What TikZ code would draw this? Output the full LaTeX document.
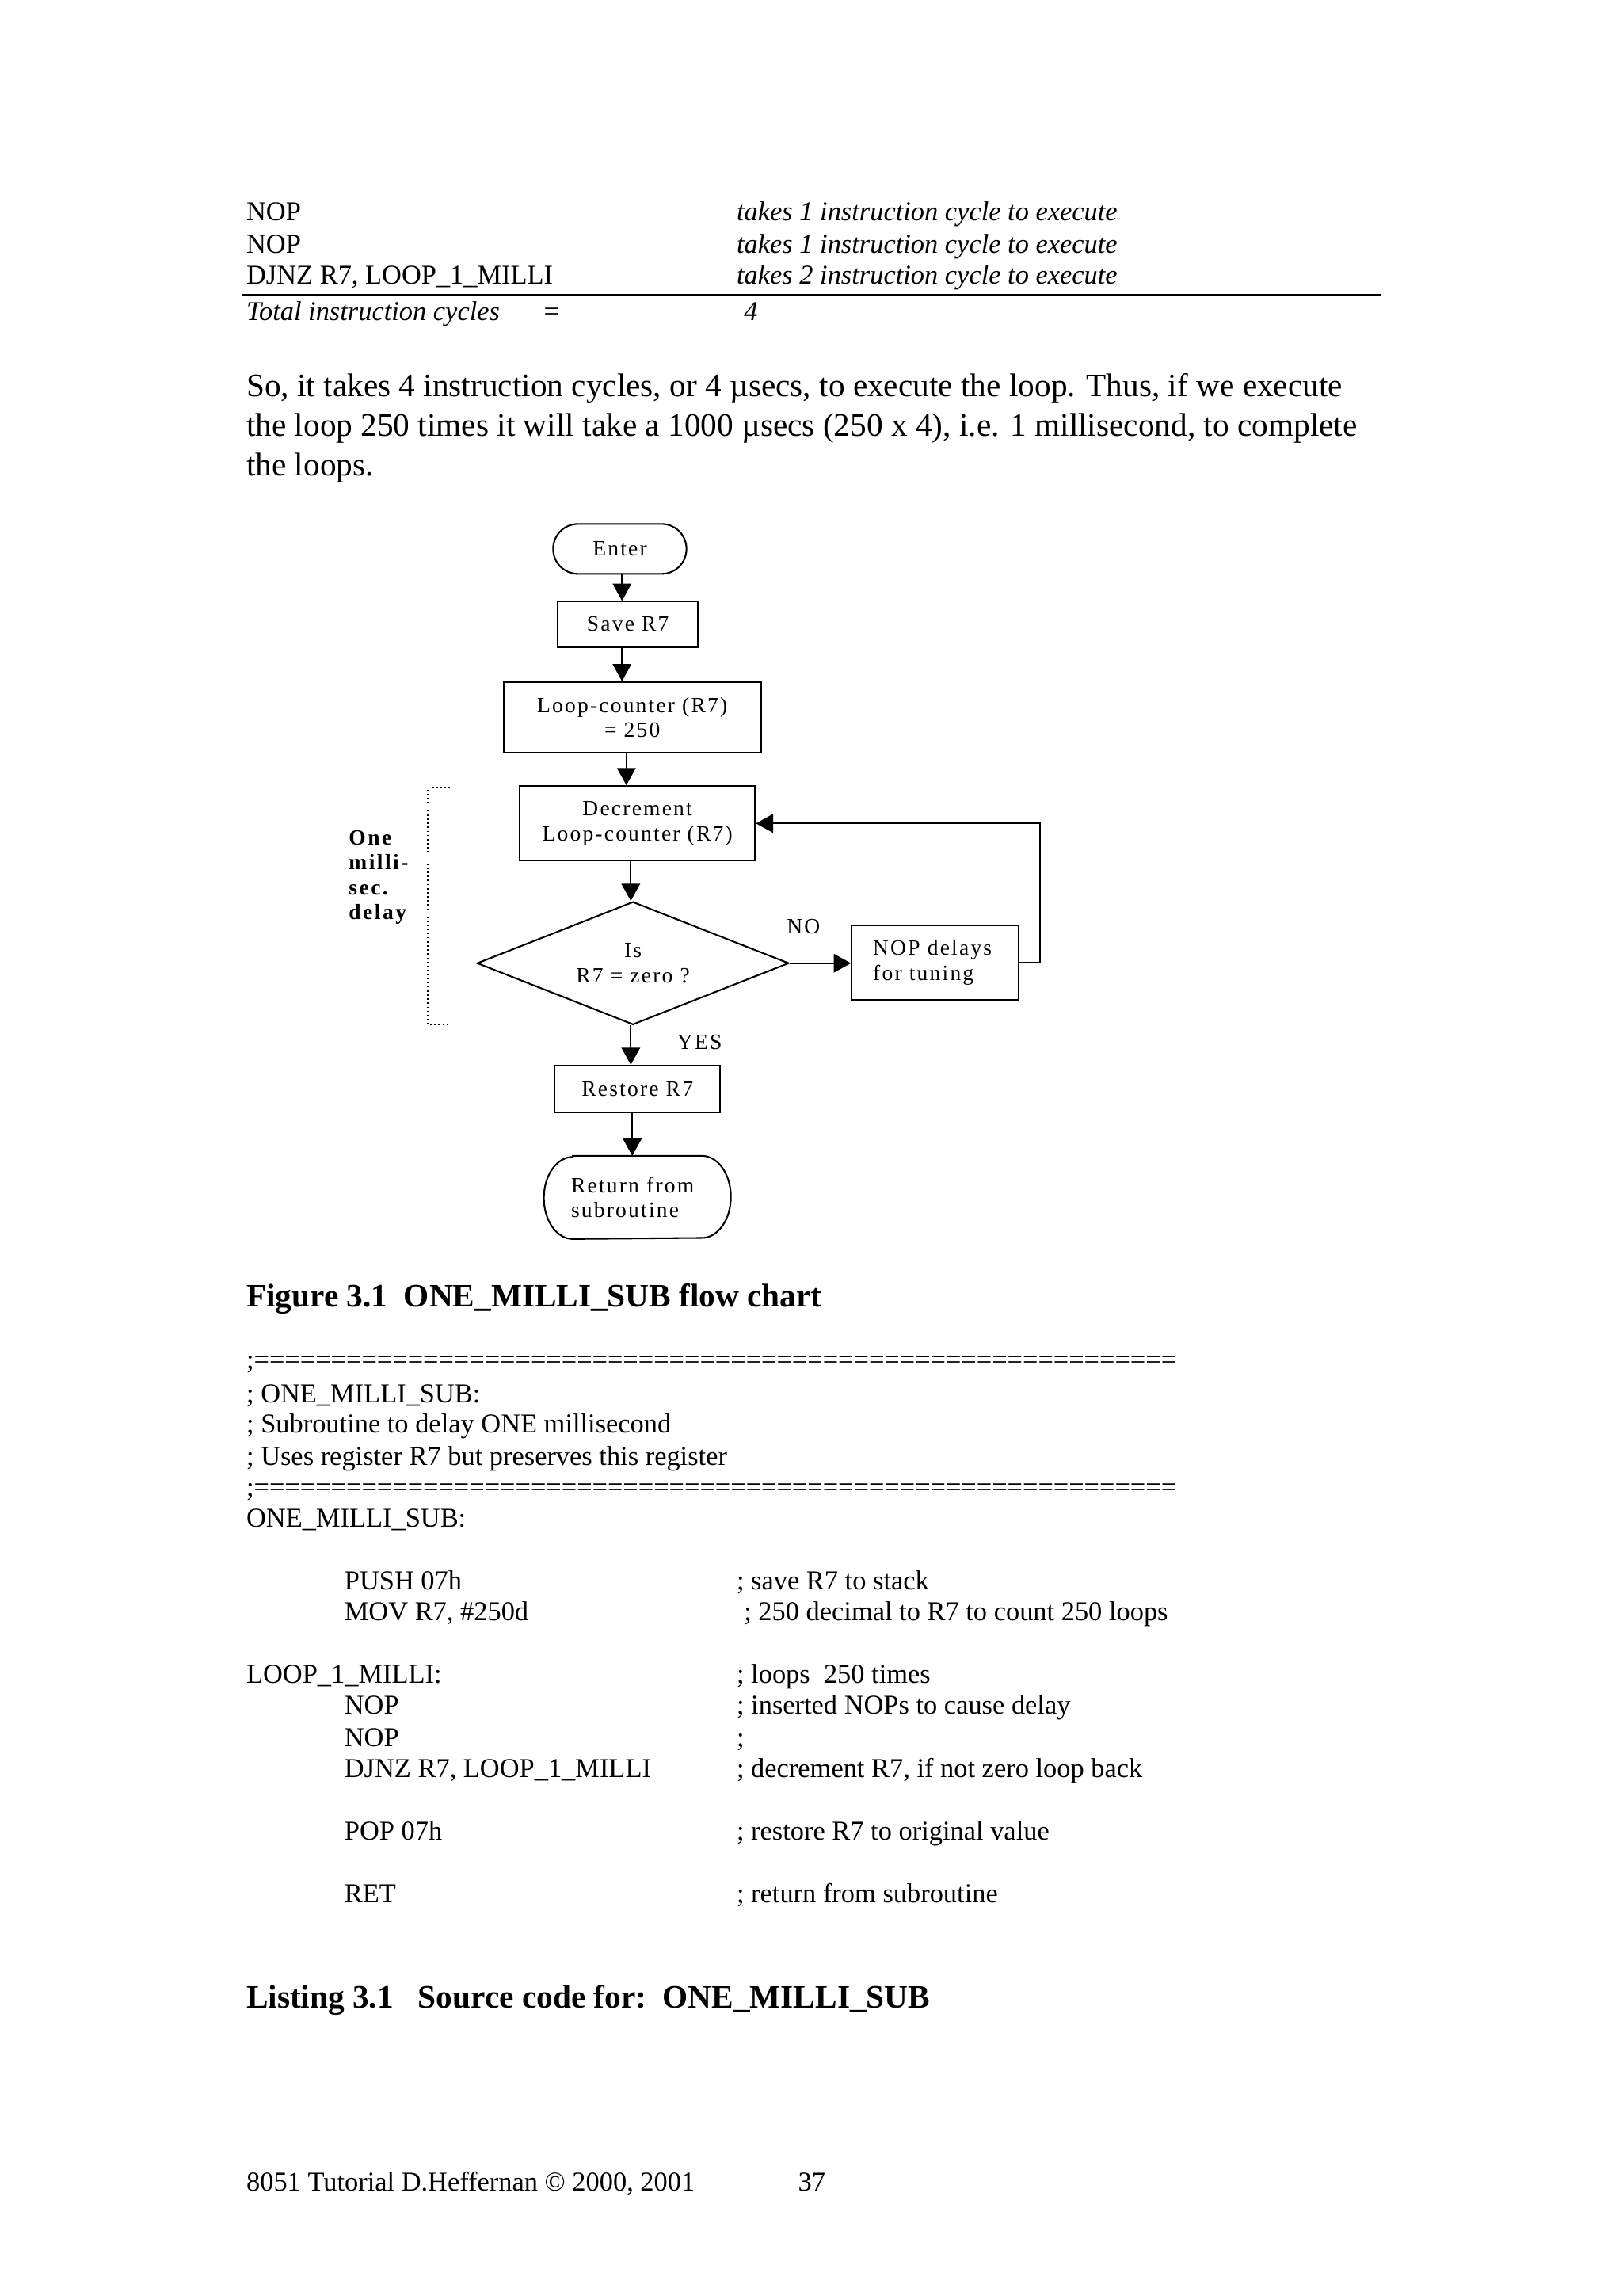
\documentclass[tikz,border=0pt]{standalone}
\usepackage{fontspec}
\setmainfont{Liberation Serif}
\newfontfamily\fcfont[LetterSpace=8]{Liberation Serif}
\newfontfamily\fcbold[LetterSpace=9]{Liberation Serif Bold}
\usetikzlibrary{shapes.geometric,arrows.meta}
\tikzset{
  txt/.style={anchor=base west, inner sep=0pt, font=\fontsize{10}{12}\selectfont},
  itxt/.style={anchor=base west, inner sep=0pt, font=\fontsize{10}{12}\selectfont\itshape},
  ptxt/.style={anchor=base west, inner sep=0pt, font=\fontsize{12}{14}\selectfont},
  captxt/.style={anchor=base west, inner sep=0pt, font=\fontsize{12}{14}\selectfont\bfseries},
  fbox/.style={draw, line width=0.6pt, inner sep=0pt, align=center, font=\fcfont\fontsize{8}{9.1}\selectfont},
  fplain/.style={inner sep=0pt, align=center, font=\fcfont\fontsize{8}{9.1}\selectfont},
  flab/.style={inner sep=0pt, font=\fcfont\fontsize{8}{9.1}\selectfont},
  arr/.style={line width=0.6pt, -{Triangle[length=6.3pt,width=6.8pt]}},
  fline/.style={line width=0.6pt}
}
\begin{document}
\begin{tikzpicture}[x=0.5369pt,y=-0.5369pt]
\fill[white] (0,0) rectangle (1108.9,1568.5);
\useasboundingbox (0,0) rectangle (1108.9,1568.5);

% ---- top table ----
\node[txt] (t1l) at (168,151) {NOP};
\node[itxt] (t1r) at (503,151) {takes 1 instruction cycle to execute};
\node[txt] (t2l) at (168,173) {NOP};
\node[itxt] (t2r) at (503,173) {takes 1 instruction cycle to execute};
\node[txt] (t3l) at (168,194) {DJNZ R7, LOOP\_1\_MILLI};
\node[itxt] (t3r) at (503,194) {takes 2 instruction cycle to execute};
\coordinate (rulea) at (165,201.5);
\coordinate (ruleb) at (944,201.5);
\draw[line width=0.7pt] (rulea) -- (ruleb);
\node[itxt] (t4l) at (168,219) {Total instruction cycles};
\node[itxt] (t4m) at (370,219) {=};
\node[itxt] (t4r) at (508,219) {4};

% ---- paragraph ----
\node[ptxt] (p1) at (168,271) {So, it takes 4 instruction cycles, or 4 µsecs, to execute the loop. Thus, if we execute};
\node[ptxt] (p2) at (168,298) {the loop 250 times it will take a 1000 µsecs (250 x 4), i.e. 1 millisecond, to complete};
\node[ptxt] (p3) at (168,325) {the loops.};

% ---- flow chart ----
\node[fbox, rounded corners=9.1pt, minimum width=48.9pt, minimum height=18.3pt] (enter) at (423.5,375) {Enter};
\node[fbox, minimum width=51.5pt, minimum height=16.6pt] (save) at (429,426.5) {Save R7};
\node[fbox, minimum width=94.5pt, minimum height=25.8pt] (loop) at (432,490) {Loop-counter (R7)\\= 250};
\node[fbox, minimum width=86.4pt, minimum height=27.4pt] (dec) at (435.5,562.5) {Decrement\\Loop-counter (R7)};
\node[fbox, shape=diamond, aspect=2.54, minimum width=114.4pt, minimum height=45.1pt] (dia) at (432.5,658) {Is\\R7 = zero ?};
\node[fbox, minimum width=61.2pt, minimum height=27.4pt, text width=45.6pt, align=left] (nop) at (639,657.5) {NOP delays\\for tuning};
\node[fbox, minimum width=60.7pt, minimum height=17.2pt] (rest) at (435.5,744) {Restore R7};
\node[fplain, minimum width=68.2pt, minimum height=30.1pt, text width=48.6pt, align=left] (ret) at (435.5,818) {Return from\\subroutine};
\draw[fline] ([xshift=10.6pt]ret.north west) -- ([xshift=-10.6pt]ret.north east)
  arc[start angle=90, end angle=-90, x radius=10.6pt, y radius=15.05pt]
  -- ([xshift=10.6pt]ret.south west)
  arc[start angle=270, end angle=90, x radius=10.6pt, y radius=15.05pt] -- cycle;

\draw[arr] (enter.south -| 425,0) -- (save.north -| 425,0);
\draw[arr] (save.south -| 425,0) -- (loop.north -| 425,0);
\draw[arr] (loop.south -| 428,0) -- (dec.north -| 428,0);
\draw[arr] (dec.south -| 431,0) -- (dia.north -| 431,0);
\draw[arr] (dia.east) -- (nop.west |- dia.east);
\draw[arr] (nop.east) -- ++(14,0) |- (dec.east);
\draw[arr] (dia.south -| 431,0) -- (rest.north -| 431,0);
\draw[arr] (rest.south -| 432,0) -- (ret.north -| 432,0);

\node[flab] (nolab) at (549,633) {NO};
\node[flab] (yeslab) at (478,712) {YES};

% dotted bracket
\coordinate (bt0) at (307.5,538);
\coordinate (bt1) at (292.3,538);
\coordinate (bb1) at (292.3,700);
\coordinate (bb0) at (307.5,700);
\draw[densely dotted, line width=0.5pt] (bt0) -- (bt1) -- (bb1) -- (bb0);
\node[inner sep=0pt, anchor=north west, align=left, font=\fcbold\fontsize{8}{9.1}\selectfont] (delay) at (238,567) {One\\milli-\\sec.\\delay};

% ---- caption ----
\node[captxt] (fig) at (168,893) {Figure 3.1\ \ ONE\_MILLI\_SUB flow chart};

% ---- listing ----
\node[txt] (l1) at (168,935) {;============================================================};
\node[txt] (l2) at (168,958) {; ONE\_MILLI\_SUB:};
\node[txt] (l3) at (168,979) {; Subroutine to delay ONE millisecond};
\node[txt] (l4) at (168,1001) {; Uses register R7 but preserves this register};
\node[txt] (l5) at (168,1022) {;============================================================};
\node[txt] (l6) at (168,1043) {ONE\_MILLI\_SUB:};
\node[txt] (l7) at (235,1086) {PUSH 07h};
\node[txt] (r7) at (503,1086) {; save R7 to stack};
\node[txt] (l8) at (235,1107) {MOV R7, \#250d};
\node[txt] (r8) at (508,1107) {; 250 decimal to R7 to count 250 loops};
\node[txt] (l9) at (168,1150) {LOOP\_1\_MILLI:};
\node[txt] (r9) at (503,1150) {; loops\ \ 250 times};
\node[txt] (l10) at (235,1171) {NOP};
\node[txt] (r10) at (503,1171) {; inserted NOPs to cause delay};
\node[txt] (l11) at (235,1193) {NOP};
\node[txt] (r11) at (503,1193) {;};
\node[txt] (l12) at (235,1214) {DJNZ R7, LOOP\_1\_MILLI};
\node[txt] (r12) at (503,1214) {; decrement R7, if not zero loop back};
\node[txt] (l13) at (235,1257) {POP 07h};
\node[txt] (r13) at (503,1257) {; restore R7 to original value};
\node[txt] (l14) at (235,1300) {RET};
\node[txt] (r14) at (503,1300) {; return from subroutine};

\node[captxt] (lst) at (168,1372) {Listing 3.1\ \ \ Source code for:\ \ ONE\_MILLI\_SUB};

% ---- footer ----
\node[txt] (foot) at (168,1497) {8051 Tutorial D.Heffernan © 2000, 2001};
\node[txt] (page) at (545,1497) {37};
\end{tikzpicture}
\end{document}
